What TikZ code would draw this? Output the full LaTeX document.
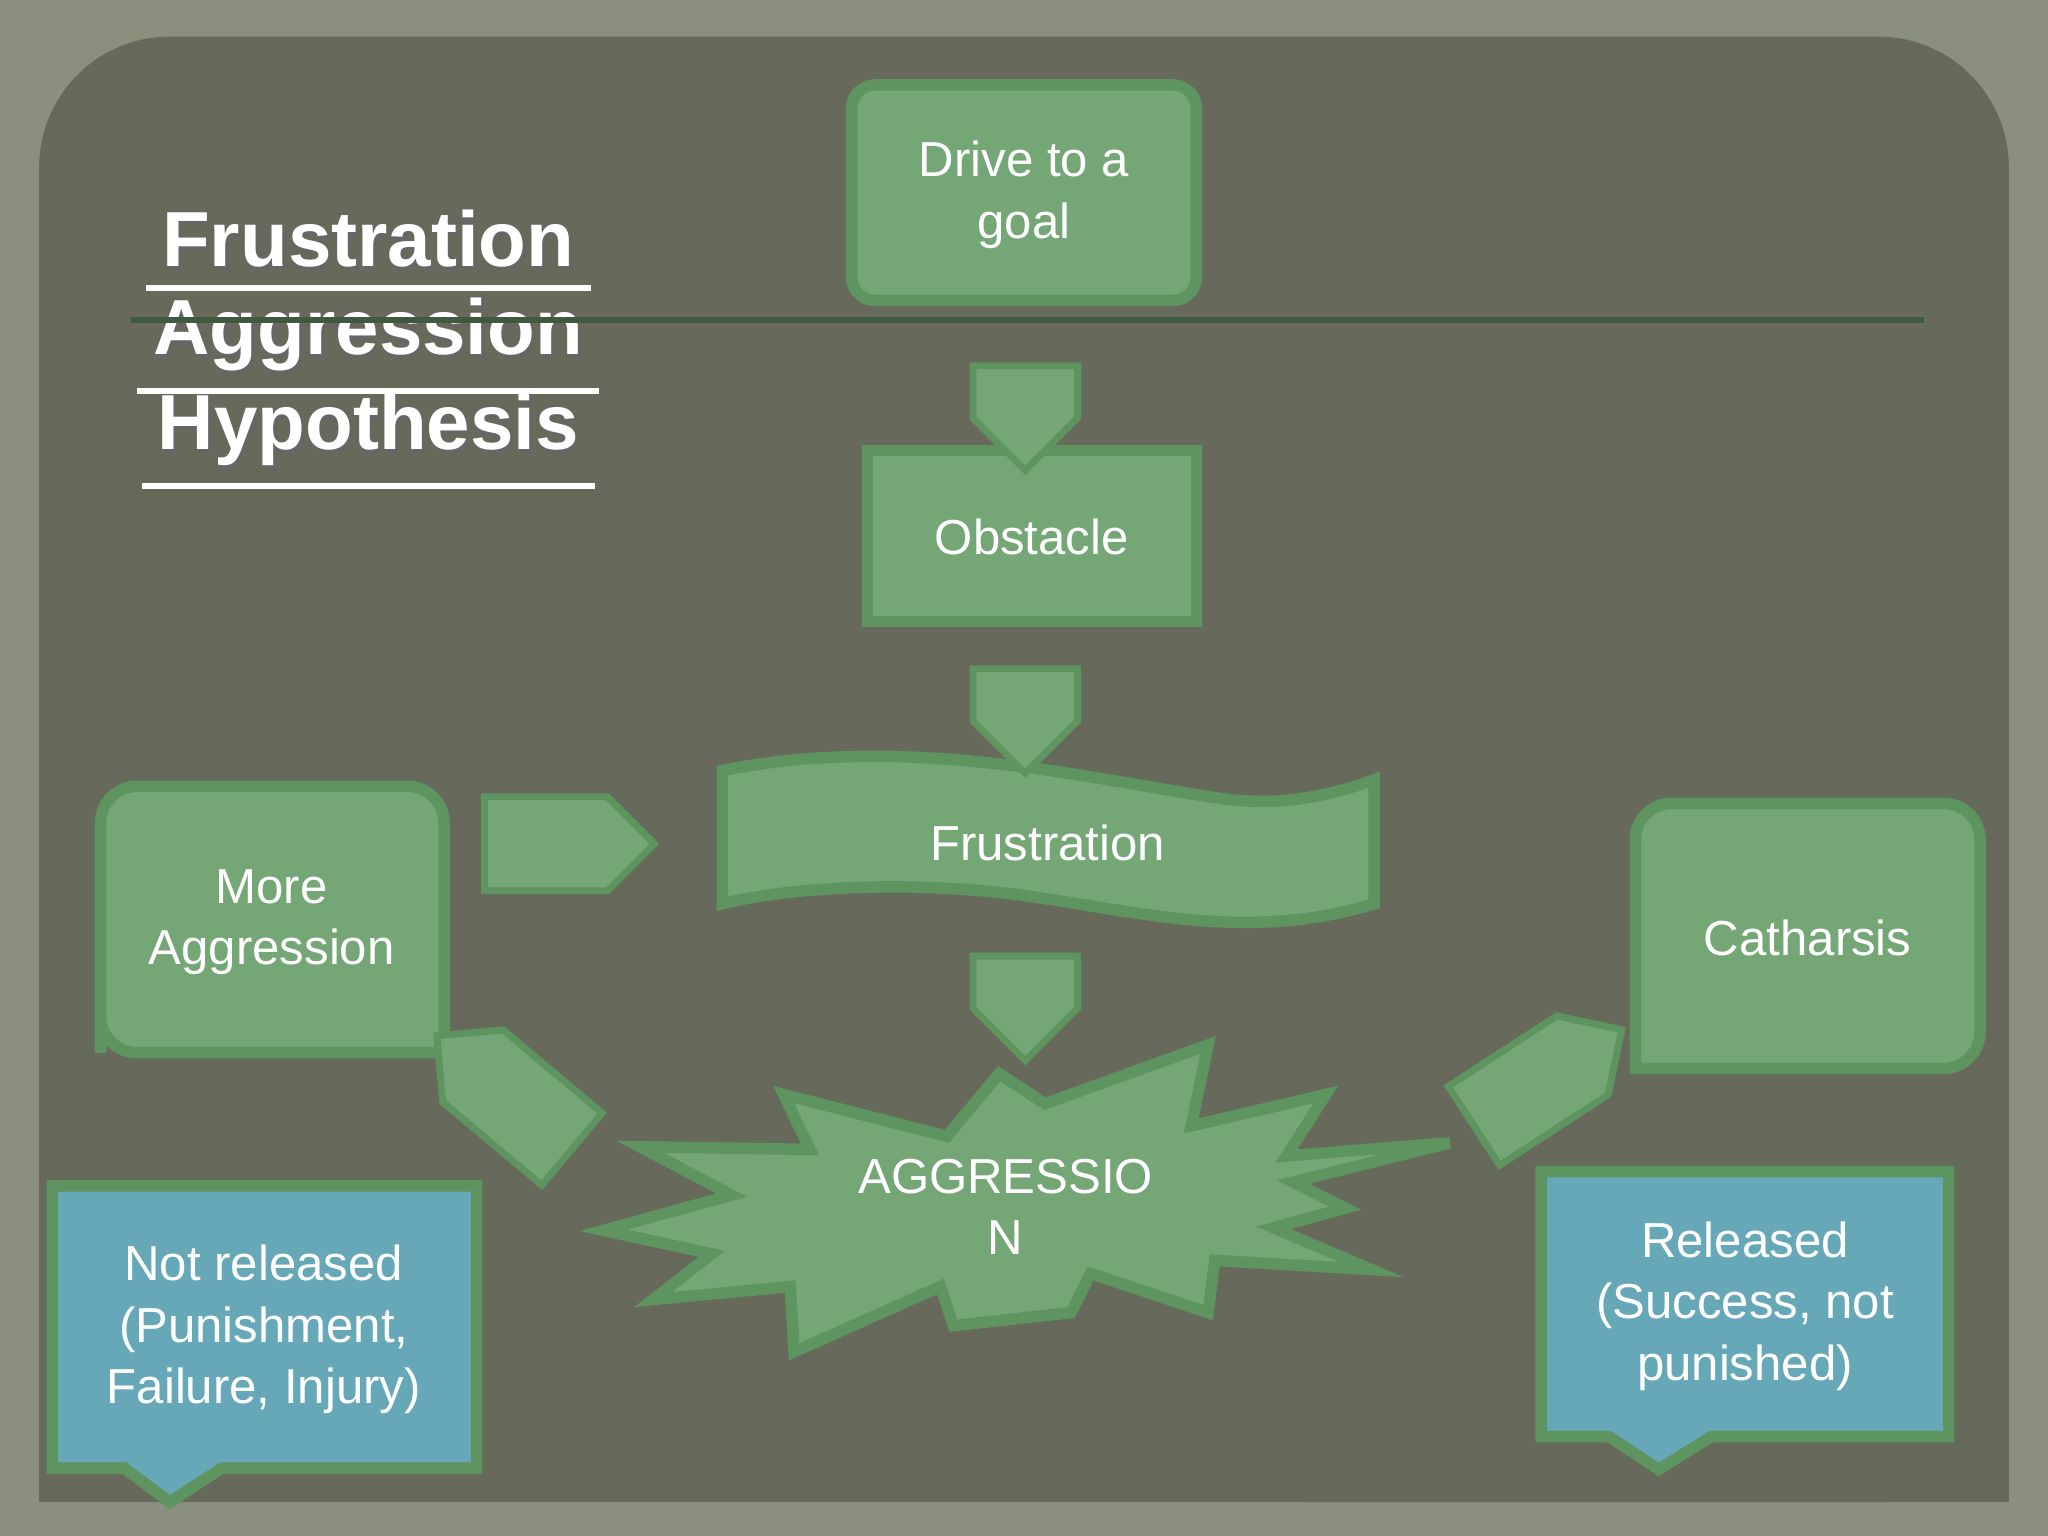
\documentclass[tikz,border=0pt]{standalone}
\usepackage{fontspec}
\setmainfont{Liberation Sans}
\usetikzlibrary{shapes.arrows}
\definecolor{outerbg}{HTML}{8A8F7E}
\definecolor{panel}{HTML}{67695B}
\definecolor{boxg}{HTML}{74A676}
\definecolor{edgeg}{HTML}{5E9460}
\definecolor{boxb}{HTML}{66A8B8}
\definecolor{lineg}{HTML}{3E5A40}
\begin{document}
\begin{tikzpicture}[x=0.01cm,y=-0.01cm,
  shp/.style={fill=boxg,draw=edgeg,line width=2.5pt},
  shpb/.style={fill=boxb,draw=edgeg,line width=2.5pt},
  lbl/.style={text=white,align=center,font=\fontsize{10.7}{13.4}\selectfont},
  barrow/.style={single arrow,fill=boxg,draw=edgeg,line width=1.5pt,minimum width=8mm,
    single arrow head extend=0pt,inner sep=0pt,single arrow tip angle=90,minimum height=8mm}]
\useasboundingbox (0,0) rectangle (1568,1176);
\fill[outerbg] (0,0) rectangle (1568,1176);
\fill[panel,rounded corners=1cm] (30,1150) -- (30,28) -- (1538,28) [sharp corners] -- (1538,1150) -- cycle;
\fill[panel] (30,1150) -- (30,600) -- (1000,600) -- (1000,1150) -- cycle;
\fill[panel,rounded corners=1cm] (1000,1150) -- (1538,1150) -- (1538,600) [sharp corners] -- (1000,600) -- cycle;
% title
\foreach \t/\y in {Frustration/183,Aggression/256,Hypothesis/329}{
  \node[text=black!60,font=\fontsize{17}{20.8}\bfseries\selectfont] at (284,\y+3) {\t};
  \node[text=white,font=\fontsize{17}{20.8}\bfseries\selectfont] (t\t) at (282,\y) {\t};
  \draw[white,line width=1.2pt] ([yshift=-0.3mm]t\t.south west) -- ([yshift=-0.3mm]t\t.south east);
}
\draw[lineg,line width=1.2pt] (100,245) -- (1473,245);
% boxes
\draw[shp,rounded corners=1.8mm] (652,65) rectangle (916,230);
\node[lbl] (drive) at (784,149) {Drive to a\\goal};
\draw[shp] (664,345) rectangle (916,476);
\node[lbl] (obst) at (790,411) {Obstacle};
\draw[shp] (553,590) .. controls (700,560) and (850,600) .. (940,612) .. controls (990,618) and (1030,605) .. (1052,597)
  -- (1052,692) .. controls (960,720) and (880,700) .. (800,688) .. controls (700,672) and (600,680) .. (553,692) -- cycle;
\node[lbl] (frus) at (802,645) {Frustration};
\draw[shp,rounded corners=2.8mm] (77,806) -- (77,602) -- (340,602) [sharp corners] -- (340,806) [rounded corners=2.8mm] -- (77,806) [sharp corners] -- cycle;
\draw[shp] (77,806) -- (77,630);
\node[lbl] (more) at (208,706) {More\\Aggression};
\draw[shp,rounded corners=2.8mm] (1252,818) -- (1252,615) -- (1516,615) -- (1516,818) [sharp corners] -- cycle;
\node[lbl] (cath) at (1384,718) {Catharsis};
\draw[shp] (800,845)--(925,800)--(912,862)--(1015,838)--(985,885)--(1110,875)--(990,905)--(1030,925)
  --(975,940)--(1050,972)--(930,965)--(925,1005)--(835,975)--(820,1005)--(730,1015)--(720,985)
  --(608,1035)--(605,985)--(500,995)--(545,960)--(462,942)--(560,915)--(490,878)--(620,880)
  --(600,838)--(725,870)--(765,822)--cycle;
\node[lbl] (aggr) at (770,924) {AGGRESSIO\\N};
\draw[shpb] (40,908) -- (365,908) -- (365,1124) -- (170,1124) -- (130,1150) -- (95,1124) -- (40,1124) -- cycle;
\node[lbl] (notrel) at (202,1018) {Not released\\(Punishment,\\Failure, Injury)};
\draw[shpb] (1180,897) -- (1492,897) -- (1492,1100) -- (1310,1100) -- (1270,1125) -- (1232,1100) -- (1180,1100) -- cycle;
\node[lbl] (rel) at (1336,1000) {Released\\(Success, not\\punished)};
% block arrows
\node[barrow,rotate=-90] (a1) at (785,300) {};
\node[barrow,rotate=-90] (a2) at (785,532) {};
\node[barrow,rotate=-90] (a3) at (785,752) {};
\node[barrow,minimum height=13mm,minimum width=7.2mm] (a4) at (418,646) {};
\node[barrow,rotate=140,minimum height=13.5mm,minimum width=7.2mm] (a5) at (400,848) {};
\node[barrow,rotate=33,minimum height=13.5mm,minimum width=7.2mm] (a6) at (1170,835) {};
\end{tikzpicture}
\end{document}
